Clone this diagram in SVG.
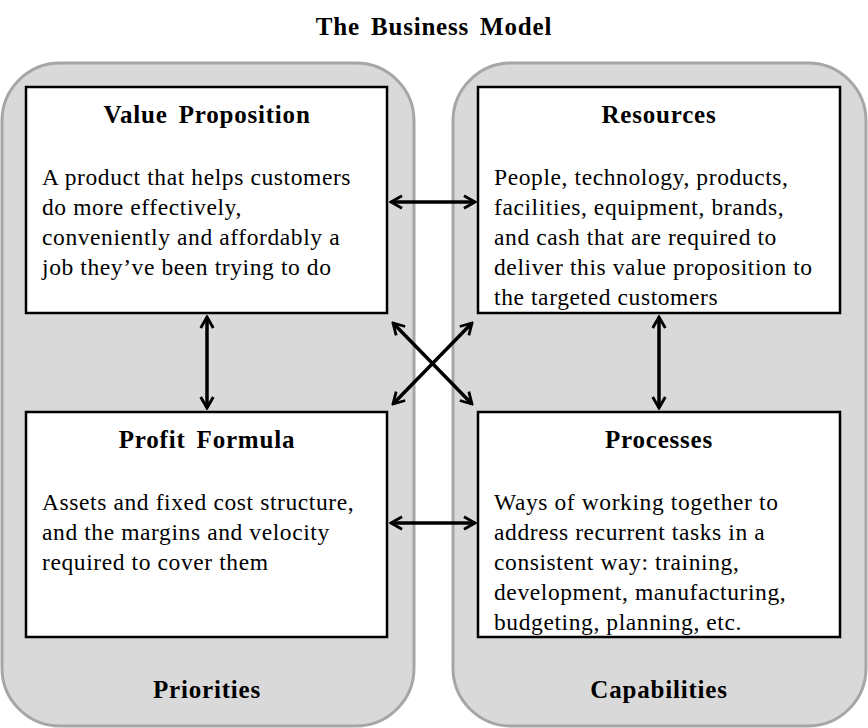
<svg xmlns="http://www.w3.org/2000/svg" width="868" height="728" viewBox="0 0 868 728">
<style>
.panel{fill:#d9d9d9;stroke:#a6a6a6;stroke-width:3}
.box{fill:#fff;stroke:#000;stroke-width:2.5}
text{font-family:"Liberation Serif","Times New Roman",serif;fill:#000}
.t{font-size:25px;font-weight:bold;text-anchor:middle;letter-spacing:0.8px;word-spacing:4px}
.b{font-size:23.5px;letter-spacing:0.6px}
.c{stroke:#000;stroke-width:3.5;fill:none;marker-start:url(#a);marker-end:url(#a)}
</style>
<defs>
<marker id="a" viewBox="0 0 10 10" refX="9" refY="5" markerWidth="4.5" markerHeight="4.5" orient="auto-start-reverse" markerUnits="strokeWidth">
<polyline points="2,1 9,5 2,9" fill="none" stroke="#000" stroke-width="1.8"/>
</marker>
</defs>
<rect width="868" height="728" fill="#fff"/>
<text class="t" x="434" y="35">The Business Model</text>
<g id="priorities"><rect class="panel" x="2" y="63" width="412" height="663" rx="58"/><text class="t" x="207" y="698">Priorities</text></g>
<g id="capabilities"><rect class="panel" x="453" y="63" width="413" height="663" rx="58"/><text class="t" x="659" y="698">Capabilities</text></g>
<g id="value"><rect class="box" x="26" y="87" width="361" height="226"/>
<text class="t" x="207" y="123">Value Proposition</text>
<text class="b" x="42" y="185">A product that helps customers</text>
<text class="b" x="42" y="215">do more effectively,</text>
<text class="b" x="42" y="245">conveniently and affordably a</text>
<text class="b" x="42" y="275">job they’ve been trying to do</text></g>
<g id="resources"><rect class="box" x="478" y="87" width="362" height="226"/>
<text class="t" x="659" y="123">Resources</text>
<text class="b" x="494" y="185">People, technology, products,</text>
<text class="b" x="494" y="215">facilities,  equipment, brands,</text>
<text class="b" x="494" y="245">and cash that are required to</text>
<text class="b" x="494" y="275">deliver this value proposition to</text>
<text class="b" x="494" y="305">the targeted customers</text></g>
<g id="profit"><rect class="box" x="26" y="412" width="361" height="225"/>
<text class="t" x="207" y="448">Profit Formula</text>
<text class="b" x="42" y="510">Assets and fixed cost structure,</text>
<text class="b" x="42" y="540">and the margins and velocity</text>
<text class="b" x="42" y="570">required to cover them</text></g>
<g id="processes"><rect class="box" x="478" y="412" width="362" height="225"/>
<text class="t" x="659" y="448">Processes</text>
<text class="b" x="494" y="510">Ways of working together to</text>
<text class="b" x="494" y="540">address recurrent tasks in a</text>
<text class="b" x="494" y="570">consistent way: training,</text>
<text class="b" x="494" y="600">development, manufacturing,</text>
<text class="b" x="494" y="630">budgeting, planning, etc.</text></g>
<g id="connectors">
<line class="c" x1="391" y1="202" x2="475" y2="202"/>
<line class="c" x1="391" y1="523" x2="475" y2="523"/>
<line class="c" x1="207" y1="317" x2="207" y2="408"/>
<line class="c" x1="659" y1="317" x2="659" y2="408"/>
<line class="c" x1="393" y1="323" x2="472" y2="404"/>
<line class="c" x1="472" y1="323" x2="393" y2="404"/>
</g>
</svg>
